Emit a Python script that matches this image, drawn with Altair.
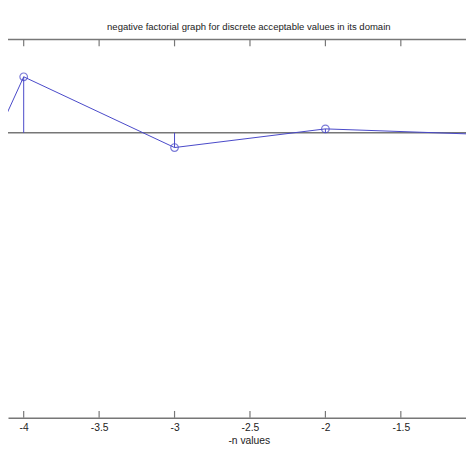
import altair as alt
import pandas as pd

# data
n_values = [-5, -4, -3, -2, -1]
f_values = [-2.94, 0.60, -0.158, 0.042, -0.015]
tick_values = [-4, -3.5, -3, -2.5, -2, -1.5]

W, H = 466, 385
BLUE = "#4646c8"
GRAY = "#777777"
FONT = "Liberation Sans"

df = pd.DataFrame({"n": n_values, "f": f_values, "zero": [0] * len(n_values)})
ticks = pd.DataFrame({"t": tick_values})
zero_df = pd.DataFrame({"z": [0]})

xs = alt.Scale(domain=[-4.104, -1.068], nice=False, zero=False)
ys = alt.Scale(domain=[-3.053, 1.0], nice=False, zero=False)

x_axis = alt.Axis(
    values=tick_values, ticks=False, grid=False,
    domainColor=GRAY, domainWidth=1.5,
    labelExpr="toString(datum.value)", labelFont=FONT, labelFontSize=10.5,
    labelColor="#222222", labelPadding=5,
    title="-n values", titleFont=FONT, titleFontSize=10.5, titleFontWeight="normal",
    titleColor="#222222", titleX=245, titlePadding=3,
)

baseline = alt.Chart(zero_df).mark_rule(color=GRAY, strokeWidth=1.5).encode(
    y=alt.Y("z:Q", scale=ys, axis=None)
)

top_line = alt.Chart(zero_df).mark_rule(color=GRAY, strokeWidth=1.5).encode(
    x=alt.value(0), x2=alt.value(W), y=alt.value(0)
)

top_ticks = alt.Chart(ticks).mark_rule(color=GRAY, strokeWidth=1.2).encode(
    x=alt.X("t:Q", scale=xs, axis=x_axis), y=alt.value(0), y2=alt.value(7)
)
bottom_ticks = alt.Chart(ticks).mark_rule(color=GRAY, strokeWidth=1.2).encode(
    x=alt.X("t:Q", scale=xs, axis=x_axis), y=alt.value(H - 7), y2=alt.value(H)
)

stems = alt.Chart(df).mark_rule(color=BLUE, strokeWidth=1, clip=True).encode(
    x=alt.X("n:Q", scale=xs, axis=x_axis),
    y=alt.Y("zero:Q", scale=ys, axis=None),
    y2="f:Q",
)

line = alt.Chart(df).mark_line(color=BLUE, strokeWidth=1, clip=True).encode(
    x=alt.X("n:Q", scale=xs, axis=x_axis),
    y=alt.Y("f:Q", scale=ys, axis=None),
)

points = alt.Chart(df).mark_point(
    shape="circle", size=60, color=BLUE, filled=False, strokeWidth=1.2, clip=True
).encode(
    x=alt.X("n:Q", scale=xs, axis=x_axis),
    y=alt.Y("f:Q", scale=ys, axis=None),
)

chart = alt.layer(baseline, top_line, top_ticks, bottom_ticks, stems, line, points).properties(
    width=W, height=H,
    title=alt.TitleParams(
        "negative factorial graph for discrete acceptable values in its domain",
        font=FONT, fontSize=9.7, fontWeight="normal", color="#222222",
        anchor="middle", dx=12, offset=7,
    ),
    autosize=alt.AutoSizeParams(type="none"),
    padding={"left": 0, "top": 28, "right": 0, "bottom": 45},
).configure_view(stroke=None)

chart.save("out.html", embed_options={"renderer": "svg", "actions": False})
